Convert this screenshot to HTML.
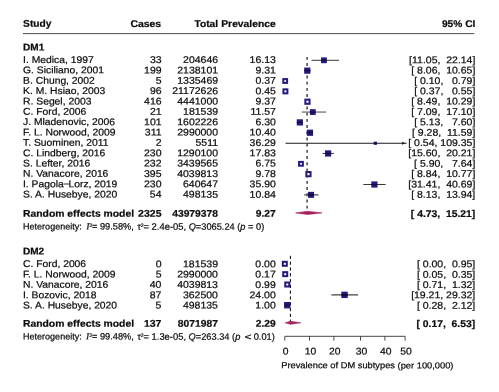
<!DOCTYPE html>
<html><head><meta charset="utf-8"><title>Forest plot</title>
<style>
html,body{margin:0;padding:0;background:#fff}
svg{display:block}
text{font-family:"Liberation Sans",Arial,Helvetica,sans-serif;fill:#0c0c0c;stroke:#0c0c0c;stroke-width:0.22px;white-space:pre}
text.ser{font-family:"Liberation Serif","Times New Roman",serif}
</style></head>
<body>
<svg width="499" height="392" viewBox="0 0 499 392">
<rect width="499" height="392" fill="#fff"/>
<g id="shapes">
<line x1="23" x2="474.2" y1="33.6" y2="33.6" stroke="#4a4a4a" stroke-width="1"/>
<g id="plot">
<line x1="307.1" x2="307.1" y1="56.9" y2="208.5" stroke="#444" stroke-width="1.5" stroke-dasharray="2.9 3.3"/>
<line x1="290.4" x2="290.4" y1="255.8" y2="321.2" stroke="#000" stroke-width="1.0" stroke-dasharray="3.2 2.6"/>
<line x1="311.46" x2="338.99" y1="60.30" y2="60.30" stroke="#222" stroke-width="0.9"/>
<rect x="321.06" y="57.40" width="5.80" height="5.80" fill="#24197c"/>
<line x1="321.06" x2="326.86" y1="60.30" y2="60.30" stroke="#0a0a30" stroke-width="0.9"/>
<line x1="304.11" x2="310.49" y1="70.65" y2="70.65" stroke="#222" stroke-width="0.9"/>
<rect x="304.20" y="67.55" width="6.20" height="6.20" fill="#24197c"/>
<line x1="304.20" x2="310.40" y1="70.65" y2="70.65" stroke="#0a0a30" stroke-width="0.9"/>
<line x1="284.45" x2="286.15" y1="81.00" y2="81.00" stroke="#222" stroke-width="0.9"/>
<rect x="283.31" y="79.10" width="3.80" height="3.80" fill="#fff" stroke="#24197c" stroke-width="2.0"/>
<line x1="285.11" x2="285.56" y1="91.35" y2="91.35" stroke="#222" stroke-width="0.9"/>
<rect x="283.41" y="89.35" width="4.00" height="4.00" fill="#fff" stroke="#24197c" stroke-width="2.0"/>
<line x1="305.17" x2="309.61" y1="101.70" y2="101.70" stroke="#222" stroke-width="0.9"/>
<rect x="305.34" y="99.60" width="4.20" height="4.20" fill="#fff" stroke="#24197c" stroke-width="2.0"/>
<line x1="301.71" x2="326.22" y1="112.05" y2="112.05" stroke="#333" stroke-width="0.9"/>
<rect x="309.93" y="109.15" width="5.80" height="5.80" fill="#24197c"/>
<line x1="309.93" x2="315.73" y1="112.05" y2="112.05" stroke="#0a0a30" stroke-width="0.9"/>
<line x1="296.87" x2="302.97" y1="122.40" y2="122.40" stroke="#222" stroke-width="0.9"/>
<rect x="296.76" y="119.30" width="6.20" height="6.20" fill="#24197c"/>
<line x1="296.87" x2="302.96" y1="122.40" y2="122.40" stroke="#0a0a30" stroke-width="0.9"/>
<line x1="307.12" x2="312.78" y1="132.75" y2="132.75" stroke="#222" stroke-width="0.9"/>
<rect x="306.88" y="129.65" width="6.20" height="6.20" fill="#24197c"/>
<line x1="307.12" x2="312.78" y1="132.75" y2="132.75" stroke="#0a0a30" stroke-width="0.9"/>
<line x1="285.53" x2="406.60" y1="143.25" y2="143.25" stroke="#1a1a1a" stroke-width="1.1"/>
<path d="M405.3 143.25 l-3.2 -1.5 v3z" fill="#1a1a1a"/>
<rect x="373.75" y="141.65" width="3.20" height="3.20" fill="#24197c"/>
<line x1="373.75" x2="376.95" y1="143.25" y2="143.25" stroke="#0a0a30" stroke-width="1.1"/>
<line x1="322.56" x2="333.86" y1="153.45" y2="153.45" stroke="#222" stroke-width="0.9"/>
<rect x="325.01" y="150.35" width="6.20" height="6.20" fill="#24197c"/>
<line x1="325.01" x2="331.21" y1="153.45" y2="153.45" stroke="#0a0a30" stroke-width="0.9"/>
<line x1="298.77" x2="303.07" y1="163.80" y2="163.80" stroke="#222" stroke-width="0.9"/>
<rect x="299.07" y="161.90" width="3.80" height="3.80" fill="#fff" stroke="#24197c" stroke-width="2.0"/>
<line x1="306.03" x2="310.78" y1="174.15" y2="174.15" stroke="#222" stroke-width="0.9"/>
<rect x="306.36" y="172.05" width="4.20" height="4.20" fill="#fff" stroke="#24197c" stroke-width="2.0"/>
<line x1="363.34" x2="385.69" y1="184.50" y2="184.50" stroke="#222" stroke-width="0.9"/>
<rect x="371.30" y="181.40" width="6.20" height="6.20" fill="#24197c"/>
<line x1="371.30" x2="377.50" y1="184.50" y2="184.50" stroke="#0a0a30" stroke-width="0.9"/>
<line x1="304.28" x2="318.51" y1="194.85" y2="194.85" stroke="#666" stroke-width="1.5"/>
<rect x="308.05" y="191.85" width="6.00" height="6.00" fill="#24197c"/>
<line x1="308.05" x2="314.05" y1="194.85" y2="194.85" stroke="#0a0a30" stroke-width="1.5"/>
<line x1="284.20" x2="286.55" y1="263.80" y2="263.80" stroke="#222" stroke-width="0.9"/>
<rect x="282.80" y="261.80" width="4.00" height="4.00" fill="#fff" stroke="#24197c" stroke-width="2.0"/>
<line x1="284.32" x2="285.06" y1="274.15" y2="274.15" stroke="#222" stroke-width="0.9"/>
<rect x="283.22" y="272.15" width="4.00" height="4.00" fill="#fff" stroke="#24197c" stroke-width="2.0"/>
<line x1="285.95" x2="287.46" y1="284.50" y2="284.50" stroke="#222" stroke-width="0.9"/>
<rect x="285.25" y="282.50" width="4.00" height="4.00" fill="#fff" stroke="#24197c" stroke-width="2.0"/>
<line x1="331.37" x2="358.09" y1="294.85" y2="294.85" stroke="#6c6c6c" stroke-width="1.6"/>
<rect x="341.34" y="291.65" width="6.40" height="6.40" fill="#24197c"/>
<line x1="341.34" x2="347.74" y1="294.85" y2="294.85" stroke="#0a0a30" stroke-width="1.6"/>
<line x1="284.89" x2="289.44" y1="305.20" y2="305.20" stroke="#111" stroke-width="0.9"/>
<rect x="284.07" y="302.00" width="6.40" height="6.40" fill="#24197c"/>
<line x1="284.89" x2="289.44" y1="305.20" y2="305.20" stroke="#0a0a30" stroke-width="0.9"/>
<path d="M295.58 212.90 L307.70 211.35 L322.01 212.90 L307.70 214.45Z" fill="#a5205c" stroke="#a5205c" stroke-width="0.6" stroke-linejoin="miter"/>
<path d="M285.12 322.80 L290.46 321.25 L300.73 322.80 L290.46 324.35Z" fill="#a5205c" stroke="#a5205c" stroke-width="0.6" stroke-linejoin="miter"/>
<path d="M284.8 340.6 V336.3 H405.1 V340.6" fill="none" stroke="#333" stroke-width="0.9"/>
<line x1="309.5" x2="309.5" y1="336.3" y2="340.6" stroke="#333" stroke-width="0.9"/>
<line x1="333.9" x2="333.9" y1="336.3" y2="340.6" stroke="#333" stroke-width="0.9"/>
<line x1="360.5" x2="360.5" y1="336.3" y2="340.6" stroke="#333" stroke-width="0.9"/>
<line x1="384.9" x2="384.9" y1="336.3" y2="340.6" stroke="#333" stroke-width="0.9"/>
</g>
</g>
<g id="labels" transform="rotate(0.03 250 196)">
<text transform="translate(23.00 26.95) scale(1.041 1)" text-anchor="start" font-size="9.8" font-weight="bold">Study</text>
<text transform="translate(161.10 26.95) scale(1.067025 1)" text-anchor="end" font-size="9.8" font-weight="bold">Cases</text>
<text transform="translate(218.00 26.95) scale(1.041 1)" text-anchor="end" font-size="9.8" font-weight="bold">Total</text>
<text transform="translate(275.60 26.95) scale(1.0534919999999999 1)" text-anchor="end" font-size="9.8" font-weight="bold">Prevalence</text>
<text transform="translate(475.30 26.95) scale(1.041 1)" text-anchor="end" font-size="9.8" font-weight="bold">95% CI</text>
<text transform="translate(23.00 50.65) scale(1.025385 1)" text-anchor="start" font-size="9.8" font-weight="bold">DM1</text>
<text transform="translate(23.00 254.60) scale(1.025385 1)" text-anchor="start" font-size="9.8" font-weight="bold">DM2</text>
<text transform="translate(23.00 63.10) scale(1.055 1)" text-anchor="start" font-size="9.8">I. Medica, 1997</text>
<text transform="translate(161.50 63.10) scale(1.071 1)" text-anchor="end" font-size="9.8">33</text>
<text transform="translate(218.00 63.10) scale(1.071 1)" text-anchor="end" font-size="9.8">204646</text>
<text transform="translate(275.80 63.10) scale(1.071 1)" text-anchor="end" font-size="9.8">16.13</text>
<text transform="translate(475.30 63.10) scale(1.071 1)" text-anchor="end" font-size="9.8">[11.05,  22.14]</text>
<text transform="translate(23.00 73.45) scale(1.055 1)" text-anchor="start" font-size="9.8">G. Siciliano, 2001</text>
<text transform="translate(161.50 73.45) scale(1.071 1)" text-anchor="end" font-size="9.8">199</text>
<text transform="translate(218.00 73.45) scale(1.071 1)" text-anchor="end" font-size="9.8">2138101</text>
<text transform="translate(275.80 73.45) scale(1.071 1)" text-anchor="end" font-size="9.8">9.31</text>
<text transform="translate(475.30 73.45) scale(1.071 1)" text-anchor="end" font-size="9.8">[ 8.06,  10.65]</text>
<text transform="translate(23.00 83.80) scale(1.055 1)" text-anchor="start" font-size="9.8">B. Chung, 2002</text>
<text transform="translate(161.50 83.80) scale(1.071 1)" text-anchor="end" font-size="9.8">5</text>
<text transform="translate(218.00 83.80) scale(1.071 1)" text-anchor="end" font-size="9.8">1335469</text>
<text transform="translate(275.80 83.80) scale(1.071 1)" text-anchor="end" font-size="9.8">0.37</text>
<text transform="translate(475.30 83.80) scale(1.071 1)" text-anchor="end" font-size="9.8">[ 0.10,   0.79]</text>
<text transform="translate(23.00 94.15) scale(1.055 1)" text-anchor="start" font-size="9.8">K. M. Hsiao, 2003</text>
<text transform="translate(161.50 94.15) scale(1.071 1)" text-anchor="end" font-size="9.8">96</text>
<text transform="translate(218.00 94.15) scale(1.071 1)" text-anchor="end" font-size="9.8">21172626</text>
<text transform="translate(275.80 94.15) scale(1.071 1)" text-anchor="end" font-size="9.8">0.45</text>
<text transform="translate(475.30 94.15) scale(1.071 1)" text-anchor="end" font-size="9.8">[ 0.37,   0.55]</text>
<text transform="translate(23.00 104.50) scale(1.055 1)" text-anchor="start" font-size="9.8">R. Segel, 2003</text>
<text transform="translate(161.50 104.50) scale(1.071 1)" text-anchor="end" font-size="9.8">416</text>
<text transform="translate(218.00 104.50) scale(1.071 1)" text-anchor="end" font-size="9.8">4441000</text>
<text transform="translate(275.80 104.50) scale(1.071 1)" text-anchor="end" font-size="9.8">9.37</text>
<text transform="translate(475.30 104.50) scale(1.071 1)" text-anchor="end" font-size="9.8">[ 8.49,  10.29]</text>
<text transform="translate(23.00 114.85) scale(1.055 1)" text-anchor="start" font-size="9.8">C. Ford, 2006</text>
<text transform="translate(161.50 114.85) scale(1.071 1)" text-anchor="end" font-size="9.8">21</text>
<text transform="translate(218.00 114.85) scale(1.071 1)" text-anchor="end" font-size="9.8">181539</text>
<text transform="translate(275.80 114.85) scale(1.071 1)" text-anchor="end" font-size="9.8">11.57</text>
<text transform="translate(475.30 114.85) scale(1.071 1)" text-anchor="end" font-size="9.8">[ 7.09,  17.10]</text>
<text transform="translate(23.00 125.20) scale(1.055 1)" text-anchor="start" font-size="9.8">J. Mladenovic, 2006</text>
<text transform="translate(161.50 125.20) scale(1.071 1)" text-anchor="end" font-size="9.8">101</text>
<text transform="translate(218.00 125.20) scale(1.071 1)" text-anchor="end" font-size="9.8">1602226</text>
<text transform="translate(275.80 125.20) scale(1.071 1)" text-anchor="end" font-size="9.8">6.30</text>
<text transform="translate(475.30 125.20) scale(1.071 1)" text-anchor="end" font-size="9.8">[ 5.13,   7.60]</text>
<text transform="translate(23.00 135.55) scale(1.055 1)" text-anchor="start" font-size="9.8">F. L. Norwood, 2009</text>
<text transform="translate(161.50 135.55) scale(1.071 1)" text-anchor="end" font-size="9.8">311</text>
<text transform="translate(218.00 135.55) scale(1.071 1)" text-anchor="end" font-size="9.8">2990000</text>
<text transform="translate(275.80 135.55) scale(1.071 1)" text-anchor="end" font-size="9.8">10.40</text>
<text transform="translate(475.30 135.55) scale(1.071 1)" text-anchor="end" font-size="9.8">[ 9.28,  11.59]</text>
<text transform="translate(23.00 145.90) scale(1.055 1)" text-anchor="start" font-size="9.8">T. Suominen, 2011</text>
<text transform="translate(161.50 145.90) scale(1.071 1)" text-anchor="end" font-size="9.8">2</text>
<text transform="translate(218.00 145.90) scale(1.071 1)" text-anchor="end" font-size="9.8">5511</text>
<text transform="translate(275.80 145.90) scale(1.071 1)" text-anchor="end" font-size="9.8">36.29</text>
<text transform="translate(475.30 145.90) scale(1.071 1)" text-anchor="end" font-size="9.8">[ 0.54, 109.35]</text>
<text transform="translate(23.00 156.25) scale(1.055 1)" text-anchor="start" font-size="9.8">C. Lindberg, 2016</text>
<text transform="translate(161.50 156.25) scale(1.071 1)" text-anchor="end" font-size="9.8">230</text>
<text transform="translate(218.00 156.25) scale(1.071 1)" text-anchor="end" font-size="9.8">1290100</text>
<text transform="translate(275.80 156.25) scale(1.071 1)" text-anchor="end" font-size="9.8">17.83</text>
<text transform="translate(475.30 156.25) scale(1.071 1)" text-anchor="end" font-size="9.8">[15.60,  20.21]</text>
<text transform="translate(23.00 166.60) scale(1.055 1)" text-anchor="start" font-size="9.8">S. Lefter, 2016</text>
<text transform="translate(161.50 166.60) scale(1.071 1)" text-anchor="end" font-size="9.8">232</text>
<text transform="translate(218.00 166.60) scale(1.071 1)" text-anchor="end" font-size="9.8">3439565</text>
<text transform="translate(275.80 166.60) scale(1.071 1)" text-anchor="end" font-size="9.8">6.75</text>
<text transform="translate(475.30 166.60) scale(1.071 1)" text-anchor="end" font-size="9.8">[ 5.90,   7.64]</text>
<text transform="translate(23.00 176.95) scale(1.055 1)" text-anchor="start" font-size="9.8">N. Vanacore, 2016</text>
<text transform="translate(161.50 176.95) scale(1.071 1)" text-anchor="end" font-size="9.8">395</text>
<text transform="translate(218.00 176.95) scale(1.071 1)" text-anchor="end" font-size="9.8">4039813</text>
<text transform="translate(275.80 176.95) scale(1.071 1)" text-anchor="end" font-size="9.8">9.78</text>
<text transform="translate(475.30 176.95) scale(1.071 1)" text-anchor="end" font-size="9.8">[ 8.84,  10.77]</text>
<text transform="translate(23.00 187.30) scale(1.055 1)" text-anchor="start" font-size="9.8">I. Pagola<tspan dx="-0.5">−</tspan><tspan dx="-0.8">Lorz, 2019</tspan></text>
<text transform="translate(161.50 187.30) scale(1.071 1)" text-anchor="end" font-size="9.8">230</text>
<text transform="translate(218.00 187.30) scale(1.071 1)" text-anchor="end" font-size="9.8">640647</text>
<text transform="translate(275.80 187.30) scale(1.071 1)" text-anchor="end" font-size="9.8">35.90</text>
<text transform="translate(475.30 187.30) scale(1.071 1)" text-anchor="end" font-size="9.8">[31.41,  40.69]</text>
<text transform="translate(23.00 197.65) scale(1.055 1)" text-anchor="start" font-size="9.8">S. A. Husebye, 2020</text>
<text transform="translate(161.50 197.65) scale(1.071 1)" text-anchor="end" font-size="9.8">54</text>
<text transform="translate(218.00 197.65) scale(1.071 1)" text-anchor="end" font-size="9.8">498135</text>
<text transform="translate(275.80 197.65) scale(1.071 1)" text-anchor="end" font-size="9.8">10.84</text>
<text transform="translate(475.30 197.65) scale(1.071 1)" text-anchor="end" font-size="9.8">[ 8.13,  13.94]</text>
<text transform="translate(23.00 267.20) scale(1.055 1)" text-anchor="start" font-size="9.8">C. Ford, 2006</text>
<text transform="translate(161.50 267.20) scale(1.071 1)" text-anchor="end" font-size="9.8">0</text>
<text transform="translate(218.00 267.20) scale(1.071 1)" text-anchor="end" font-size="9.8">181539</text>
<text transform="translate(275.80 267.20) scale(1.071 1)" text-anchor="end" font-size="9.8">0.00</text>
<text transform="translate(475.30 267.20) scale(1.071 1)" text-anchor="end" font-size="9.8">[ 0.00,  0.95]</text>
<text transform="translate(23.00 277.55) scale(1.055 1)" text-anchor="start" font-size="9.8">F. L. Norwood, 2009</text>
<text transform="translate(161.50 277.55) scale(1.071 1)" text-anchor="end" font-size="9.8">5</text>
<text transform="translate(218.00 277.55) scale(1.071 1)" text-anchor="end" font-size="9.8">2990000</text>
<text transform="translate(275.80 277.55) scale(1.071 1)" text-anchor="end" font-size="9.8">0.17</text>
<text transform="translate(475.30 277.55) scale(1.071 1)" text-anchor="end" font-size="9.8">[ 0.05,  0.35]</text>
<text transform="translate(23.00 287.90) scale(1.055 1)" text-anchor="start" font-size="9.8">N. Vanacore, 2016</text>
<text transform="translate(161.50 287.90) scale(1.071 1)" text-anchor="end" font-size="9.8">40</text>
<text transform="translate(218.00 287.90) scale(1.071 1)" text-anchor="end" font-size="9.8">4039813</text>
<text transform="translate(275.80 287.90) scale(1.071 1)" text-anchor="end" font-size="9.8">0.99</text>
<text transform="translate(475.30 287.90) scale(1.071 1)" text-anchor="end" font-size="9.8">[ 0.71,  1.32]</text>
<text transform="translate(23.00 298.25) scale(1.055 1)" text-anchor="start" font-size="9.8">I. Bozovic, 2018</text>
<text transform="translate(161.50 298.25) scale(1.071 1)" text-anchor="end" font-size="9.8">87</text>
<text transform="translate(218.00 298.25) scale(1.071 1)" text-anchor="end" font-size="9.8">362500</text>
<text transform="translate(275.80 298.25) scale(1.071 1)" text-anchor="end" font-size="9.8">24.00</text>
<text transform="translate(475.30 298.25) scale(1.071 1)" text-anchor="end" font-size="9.8">[19.21, 29.32]</text>
<text transform="translate(23.00 308.60) scale(1.055 1)" text-anchor="start" font-size="9.8">S. A. Husebye, 2020</text>
<text transform="translate(161.50 308.60) scale(1.071 1)" text-anchor="end" font-size="9.8">5</text>
<text transform="translate(218.00 308.60) scale(1.071 1)" text-anchor="end" font-size="9.8">498135</text>
<text transform="translate(275.80 308.60) scale(1.071 1)" text-anchor="end" font-size="9.8">1.00</text>
<text transform="translate(475.30 308.60) scale(1.071 1)" text-anchor="end" font-size="9.8">[ 0.28,  2.12]</text>
<text transform="translate(23.00 216.80) scale(1.0581764999999999 1)" text-anchor="start" font-size="9.8" font-weight="bold">Random effects model</text>
<text transform="translate(161.50 216.80) scale(1.07223 1)" text-anchor="end" font-size="9.8" font-weight="bold">2325</text>
<text transform="translate(218.00 216.80) scale(1.05141 1)" text-anchor="end" font-size="9.8" font-weight="bold">43979378</text>
<text transform="translate(275.80 216.80) scale(1.05141 1)" text-anchor="end" font-size="9.8" font-weight="bold">9.27</text>
<text transform="translate(475.30 216.80) scale(1.057656 1)" text-anchor="end" font-size="9.8" font-weight="bold">[ 4.73,  15.21]</text>
<text transform="translate(23.00 326.80) scale(1.0581764999999999 1)" text-anchor="start" font-size="9.8" font-weight="bold">Random effects model</text>
<text transform="translate(161.50 326.80) scale(1.07223 1)" text-anchor="end" font-size="9.8" font-weight="bold">137</text>
<text transform="translate(218.00 326.80) scale(1.05141 1)" text-anchor="end" font-size="9.8" font-weight="bold">8071987</text>
<text transform="translate(275.80 326.80) scale(1.05141 1)" text-anchor="end" font-size="9.8" font-weight="bold">2.29</text>
<text transform="translate(475.30 326.80) scale(1.057656 1)" text-anchor="end" font-size="9.8" font-weight="bold">[ 0.17,  6.53]</text>
<g class="het"><text x="23" y="229.70" font-size="9.05">Heterogeneity:</text><text x="86.2" y="229.70" font-size="9.7" font-family="Liberation Serif, serif" font-style="italic" class="ser">I</text><text x="89.5" y="227.10" font-size="5.0">2</text><text x="92.0" y="229.70" font-size="9.26">= 99.58%,</text><text x="137.3" y="229.70" font-size="9.26">τ</text><text x="140.8" y="227.10" font-size="5.0">2</text><text x="143.5" y="229.70" font-size="9.42">= 2.4e-05,</text><text x="188.7" y="229.70" font-size="9.26"><tspan font-style="italic">Q</tspan>=3065.24 (<tspan font-style="italic">p</tspan> = 0)</text></g>
<g class="het"><text x="23" y="339.70" font-size="9.05">Heterogeneity:</text><text x="86.2" y="339.70" font-size="9.7" font-family="Liberation Serif, serif" font-style="italic" class="ser">I</text><text x="89.5" y="337.10" font-size="5.0">2</text><text x="92.0" y="339.70" font-size="9.26">= 99.48%,</text><text x="137.3" y="339.70" font-size="9.26">τ</text><text x="140.8" y="337.10" font-size="5.0">2</text><text x="143.5" y="339.70" font-size="9.42">= 1.3e-05,</text><text x="188.7" y="339.70" font-size="9.26"><tspan font-style="italic">Q</tspan>=263.34 (<tspan font-style="italic">p</tspan></text><text transform="translate(244.7 339.90) scale(1.3 1)" font-size="9.26">&lt;</text><text x="253.8" y="339.70" font-size="9.26">0.01)</text></g>
<text transform="translate(285.80 354.50) scale(1.055 1)" text-anchor="middle" font-size="9.8">0</text>
<text transform="translate(310.50 354.50) scale(1.055 1)" text-anchor="middle" font-size="9.8">10</text>
<text transform="translate(334.90 354.50) scale(1.055 1)" text-anchor="middle" font-size="9.8">20</text>
<text transform="translate(361.50 354.50) scale(1.055 1)" text-anchor="middle" font-size="9.8">30</text>
<text transform="translate(385.90 354.50) scale(1.055 1)" text-anchor="middle" font-size="9.8">40</text>
<text transform="translate(406.10 354.50) scale(1.055 1)" text-anchor="middle" font-size="9.8">50</text>
<text transform="translate(281.30 368.30) scale(1.06 1)" text-anchor="start" font-size="8.8">Prevalence of DM subtypes (per 100,000)</text>
</g>
</svg>
</body></html>
